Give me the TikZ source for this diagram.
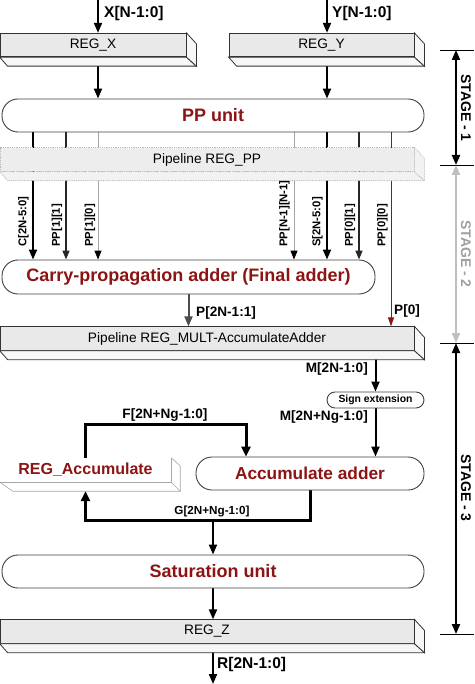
\documentclass[tikz,border=0pt]{standalone}
\usepackage{fontspec}
\setmainfont{Liberation Sans}
\usetikzlibrary{arrows.meta,calc}
\pgfdeclarelayer{bg}
\pgfsetlayers{bg,main}
\definecolor{dred}{RGB}{140,20,20}
\newcommand\regfaces[2]{%
  \draw[#2] (#1.south west) -- (#1.south east) -- ($(#1.south east)+(10,9)$) -- ($(#1.south west)+(8,9)$) -- cycle;
  \draw[#2] (#1.north east) -- ($(#1.north east)+(10,11)$) -- ($(#1.south east)+(10,9)$) -- (#1.south east) -- cycle;}
\begin{document}
\begin{tikzpicture}[x=1pt,y=-1pt,
  reg/.style={draw=black!80, line width=0.8pt, fill=gray!17, minimum height=23.5pt, inner sep=0pt, font=\fontsize{13.7}{16}\selectfont},
  face/.style={draw=black!80, line width=0.8pt, fill=gray!6},
  dface/.style={draw=gray!55, densely dotted, line width=0.8pt, fill=gray!10},
  pill/.style={draw=black!75, line width=0.9pt, fill=white, rounded corners=16pt, inner sep=0pt, minimum height=33pt, text=dred, font=\bfseries\fontsize{18}{20}\selectfont},
  lab/.style={inner sep=0pt, font=\bfseries\fontsize{13.6}{15}\selectfont},
  biglab/.style={inner sep=0pt, font=\bfseries\fontsize{15.5}{17}\selectfont},
  vlab/.style={inner sep=0pt, rotate=90, anchor=west, font=\bfseries\fontsize{11.3}{13}\selectfont},
  stlab/.style={inner sep=0pt, rotate=-90, font=\bfseries\fontsize{14}{16}\selectfont},
  arr/.style={-{Triangle[length=10pt,width=8pt]}, line width=2pt},
  marr/.style={-{Triangle[length=9pt,width=7pt]}, line width=1.5pt, draw=black!85},
  tarr/.style={-{Triangle[length=9pt,width=7pt,color=black]}, line width=1pt, draw=gray!70},
  loopln/.style={line width=3pt},
  sarr/.style={{Triangle[length=10pt,width=8pt]}-{Triangle[length=10pt,width=8pt]}, line width=2pt},
  tick/.style={line width=0.8pt}]
\useasboundingbox (0,0) rectangle (474,684);

% ---------- nodes ----------
\node[reg, minimum width=186pt] (regx) at (93,45) {REG\_X};
\node[reg, minimum width=185pt] (regy) at (321.5,45) {REG\_Y};
\node[pill, minimum width=422pt] (ppu) at (213,115.5) {PP unit};
\node[reg, minimum width=414pt, draw=gray!55, densely dotted, line width=0.8pt, fill=gray!14] (regpp) at (207,159.5) {Pipeline REG\_PP};
\node[pill, minimum width=373pt, minimum height=34pt] (cpa) at (188.5,277) {Carry-propagation adder (Final adder)};
\node[reg, minimum width=414pt] (regm) at (207,338.5) {Pipeline REG\_MULT-AccumulateAdder};
\node[pill, minimum width=97pt, minimum height=16pt, rounded corners=8pt, text=black, font=\bfseries\fontsize{10.4}{12}\selectfont] (sign) at (375.5,400) {Sign extension};
\node[pill, minimum width=228pt, font=\bfseries\fontsize{17.3}{20}\selectfont] (acc) at (310,473.5) {Accumulate adder};
\node[minimum width=171pt, minimum height=24pt, inner sep=0pt, text=dred, font=\bfseries\fontsize{16}{18}\selectfont] (regacc) at (85.5,470) {\raisebox{2pt}{REG\_Accumulate}};
\node[pill, minimum width=422pt] (sat) at (213,571.5) {Saturation unit};
\node[reg, minimum width=414pt] (regz) at (207,631.5) {REG\_Z};

% 3D faces
\regfaces{regx}{face}
\regfaces{regy}{face}
\regfaces{regpp}{dface}
\regfaces{regm}{face}
\regfaces{regz}{face}
\draw[gray!70, line width=0.6pt] (regacc.north east) -- (regacc.south east) -- (regacc.south west);
\draw[gray!70, line width=0.6pt] (regacc.south west) -- ($(regacc.south west)+(13,9)$) -- ($(regacc.south east)+(9,9)$) -- (regacc.south east);
\draw[gray!70, line width=0.6pt] (regacc.north east) -- ($(regacc.north east)+(9,8)$) -- ($(regacc.south east)+(9,9)$);

% ---------- coordinates ----------
\coordinate (xin) at (98,0);
\coordinate (yin) at (327,0);
\coordinate (c1) at (33,0);
\coordinate (c2) at (66,0);
\coordinate (c3) at (98,0);
\coordinate (c4) at (294,0);
\coordinate (c5) at (327,0);
\coordinate (c6) at (359,0);
\coordinate (c7) at (391,0);
\coordinate (fcorner) at (246,424);
\coordinate (gy) at (0,520);
\coordinate (rout) at (213,684);

% ---------- connectors ----------
\begin{pgfonlayer}{bg}
\draw[arr] (xin) -- (xin |- regx.north);
\draw[arr] (yin) -- (yin |- regy.north);
\draw[arr] (xin |- regx.south) -- (xin |- ppu.north);
\draw[arr] (yin |- regy.south) -- (yin |- ppu.north);
\draw[arr] (ppu.south -| c1) -- (cpa.north -| c1);
\draw[marr] (ppu.south -| c2) -- (cpa.north -| c2);
\draw[tarr] (ppu.south -| c3) -- (cpa.north -| c3);
\draw[tarr] (ppu.south -| c4) -- (cpa.north -| c4);
\draw[arr] (ppu.south -| c5) -- (cpa.north -| c5);
\draw[marr] (ppu.south -| c6) -- (cpa.north -| c6);
\draw[-{Triangle[length=9pt,width=6pt]}, line width=0.8pt, dred] (ppu.south -| c7) -- (regm.north -| c7);
\draw[-{Triangle[length=10pt,width=8pt]}, line width=2pt, draw=black!70, fill=black!70] (cpa.south) -- (cpa.south |- regm.north);
\draw[arr] (sign.north |- regm.south) -- (sign.north);
\draw[arr] (sign.south) -- (sign.south |- acc.north);
\draw[loopln, -{Triangle[length=10pt,width=9pt]}] (regacc.north) |- (fcorner) -- (fcorner |- acc.north);
\draw[loopln, -{Triangle[length=10pt,width=9pt]}] (acc.south) |- (regacc.south |- gy) -- ([yshift=-9pt]regacc.south);
\draw[arr] (sat.north |- gy) -- (sat.north);
\draw[arr] (sat.south) -- (sat.south |- regz.north);
\draw[arr] (sat.south |- regz.south) -- (rout);
\end{pgfonlayer}

% ---------- labels ----------
\node[biglab, anchor=west] (lx) at (104,13) {X[N-1:0]};
\node[biglab, anchor=west] (ly) at (332,13) {Y[N-1:0]};
\node[vlab] (l1) at (23.5,247) {C[2N-5:0]};
\node[vlab] (l2) at (57,247) {PP[1][1]};
\node[vlab] (l3) at (90,247) {PP[1][0]};
\node[vlab] (l4) at (284.5,247) {PP[N-1][N-1]};
\node[vlab] (l5) at (317.5,247) {S[2N-5:0]};
\node[vlab] (l6) at (350,247) {PP[0][1]};
\node[vlab] (l7) at (382.5,247) {PP[0][0]};
\node[lab, anchor=west] (lp) at (196,313) {P[2N-1:1]};
\node[lab, anchor=west] (lp0) at (394,311) {P[0]};
\node[lab, anchor=east] (lm) at (368,369) {M[2N-1:0]};
\node[lab, anchor=east] (lm2) at (368,417) {M[2N+Ng-1:0]};
\node[lab] (lf) at (165,415) {F[2N+Ng-1:0]};
\node[lab, font=\bfseries\fontsize{11.7}{13}\selectfont] (lg) at (212,511) {G[2N+Ng-1:0]};
\node[biglab, anchor=west] (lr) at (217,664) {R[2N-1:0]};

% ---------- stages ----------
\coordinate (s1) at (456,50);
\coordinate (s2) at (456,165);
\coordinate (s3) at (456,343);
\coordinate (s4) at (456,634);
\draw[tick] (440,50) -- (474,50);
\draw[tick] (440,165) -- (474,165);
\draw[tick] (440,343) -- (474,343);
\draw[tick] (440,634) -- (474,634);
\draw[sarr] (s1) -- (s2);
\draw[sarr, draw=gray!50, {Triangle[length=10pt,width=8pt,color=gray!50]}-{Triangle[length=10pt,width=8pt,color=gray!50]}] (s2) -- (s3);
\draw[sarr] (s3) -- (s4);
\node[stlab] (st1) at (466,108) {STAGE - 1};
\node[stlab, text=gray!75] (st2) at (466,254) {STAGE - 2};
\node[stlab] (st3) at (466,488) {STAGE - 3};
\end{tikzpicture}
\end{document}
